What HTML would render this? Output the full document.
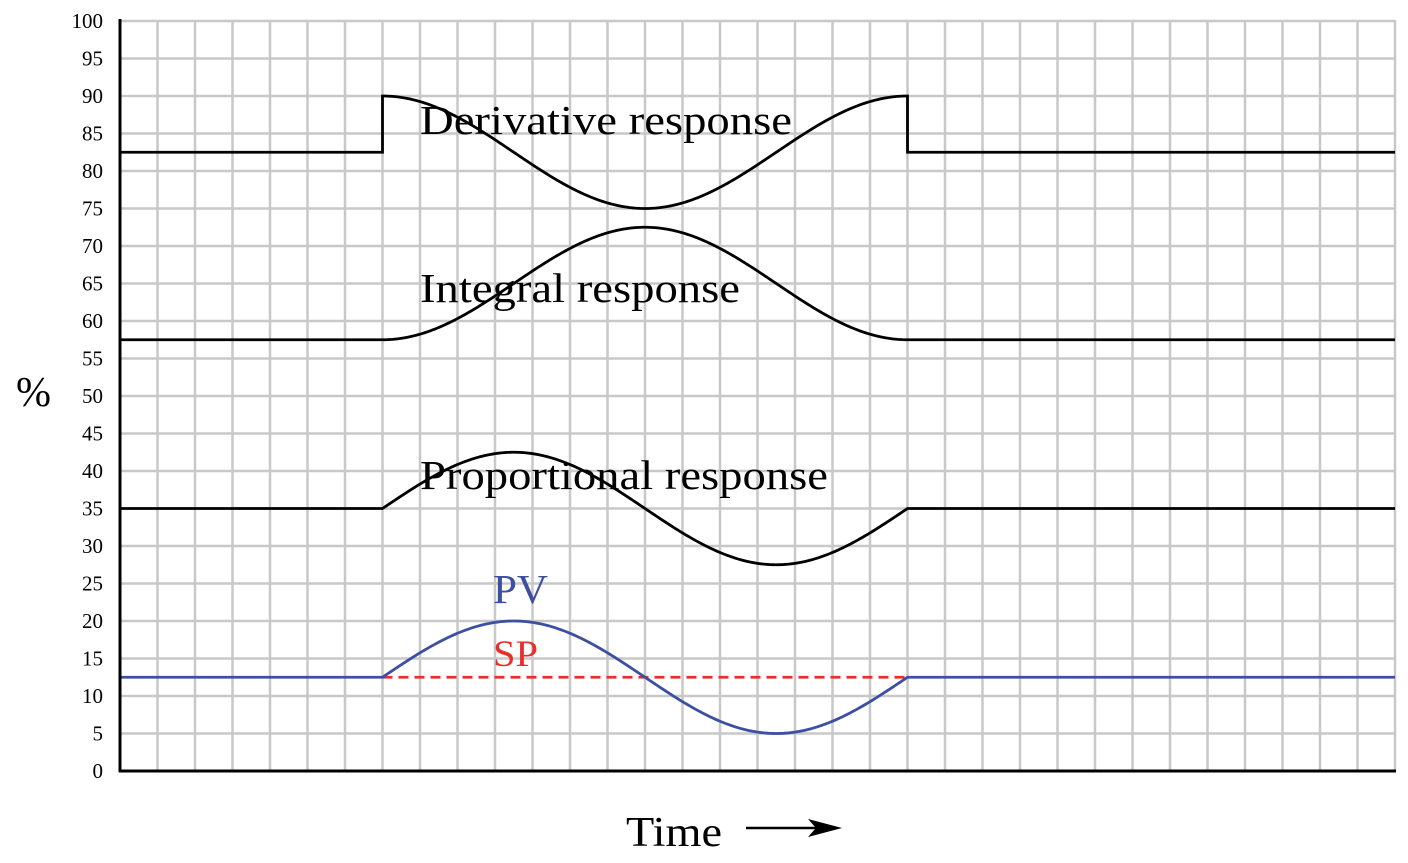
<!DOCTYPE html>
<html><head><meta charset="utf-8"><style>
html,body{margin:0;padding:0;background:#fff;}
svg{display:block;}
text{font-family:"Liberation Serif",serif;}
</style></head><body>
<svg id="s" width="1408" height="863" xmlns="http://www.w3.org/2000/svg">
<g id="grid" stroke="#c8c8c8" stroke-width="2.5"></g>
<g id="ticks" font-size="21" text-anchor="end" fill="#000"></g>
<g id="curves" fill="none" stroke-width="2.8"></g>
<line x1="120" y1="19" x2="120" y2="772" stroke="#000" stroke-width="3"/>
<line x1="119" y1="771" x2="1396" y2="771" stroke="#000" stroke-width="3"/>
<text x="420" y="134" font-size="41" textLength="372" lengthAdjust="spacingAndGlyphs">Derivative response</text>
<text x="420" y="302" font-size="41" textLength="320" lengthAdjust="spacingAndGlyphs">Integral response</text>
<text x="420" y="489" font-size="41" textLength="408" lengthAdjust="spacingAndGlyphs">Proportional response</text>
<text x="493" y="603" font-size="41" fill="#3c4fa0" textLength="55" lengthAdjust="spacingAndGlyphs">PV</text>
<text x="493" y="666" font-size="37" fill="#e8302a" textLength="45" lengthAdjust="spacingAndGlyphs">SP</text>
<text x="16" y="406" font-size="42">%</text>
<text x="626" y="846" font-size="42" textLength="96" lengthAdjust="spacingAndGlyphs">Time</text>
<line x1="746" y1="828" x2="820" y2="828" stroke="#000" stroke-width="2.5"/>
<polygon points="842,828 808,819 816,828 808,837" fill="#000"/>
</svg>
<script>
var ns="http://www.w3.org/2000/svg";
function el(p,t,a){var e=document.createElementNS(ns,t);for(var k in a)e.setAttribute(k,a[k]);document.getElementById(p).appendChild(e);return e;}
var X0=120,dx=37.5,Y=function(v){return 771-7.5*v;};
for(var i=1;i<=34;i++){var x=X0+i*dx;el("grid","line",{x1:x,y1:20,x2:x,y2:771});}
for(var v=5;v<=100;v+=5){el("grid","line",{x1:120,y1:Y(v),x2:1395,y2:Y(v)});}
for(var v=0;v<=100;v+=5){var t=el("ticks","text",{x:103,y:Y(v)+7});t.textContent=v;}
var a=382.5,b=907.5;
function path(f,col,dash,base){
 var d="M120,"+Y(base)+" L"+a+","+Y(base);
 for(var x=a;x<=b+0.01;x+=2.5){var th=2*Math.PI*(x-a)/525;d+=" L"+x+","+Y(f(th)).toFixed(2);}
 d+=" L"+b+","+Y(base)+" L1395,"+Y(base);
 var p=el("curves","path",{d:d,stroke:col});if(dash)p.setAttribute("stroke-dasharray",dash);
}
el("curves","line",{x1:a,y1:Y(12.5),x2:b,y2:Y(12.5),stroke:"#e8302a","stroke-dasharray":"10,6"});
path(function(t){return 12.5+7.5*Math.sin(t);},"#3c4fa0",null,12.5);
path(function(t){return 35+7.5*Math.sin(t);},"#000",null,35);
path(function(t){return 57.5+7.5*(1-Math.cos(t));},"#000",null,57.5);
path(function(t){return 82.5+7.5*Math.cos(t);},"#000",null,82.5);
</script>
</body></html>
